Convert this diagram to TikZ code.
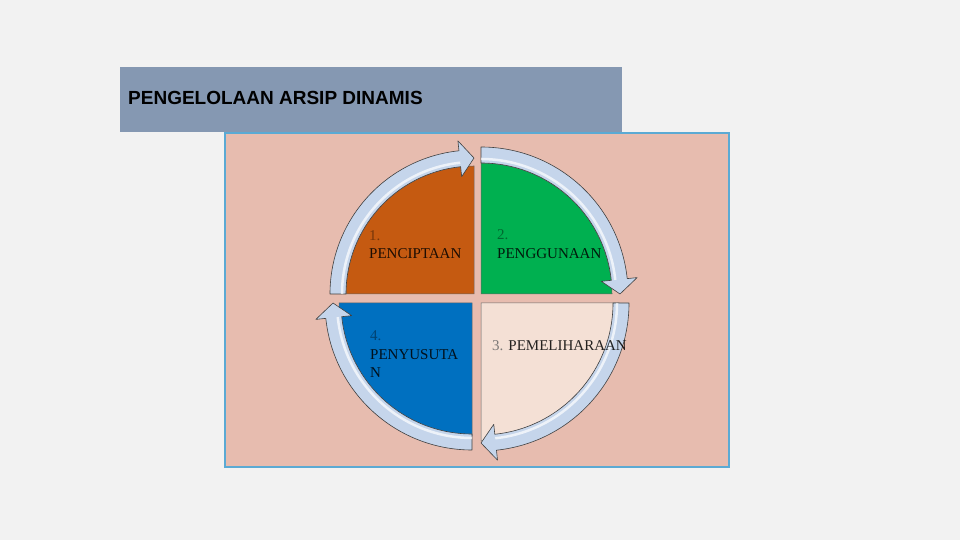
\documentclass[tikz,border=0pt]{standalone}
\usepackage{fontspec}
\setmainfont{Liberation Serif}
\setsansfont{Liberation Sans}
\usepackage{tikz}
\usetikzlibrary{calc}
\definecolor{pagegray}{HTML}{F2F2F2}
\definecolor{bandblue}{HTML}{8598B2}
\definecolor{boxpink}{HTML}{E7BCAF}
\definecolor{boxline}{HTML}{5BAAD4}
\definecolor{qorange}{HTML}{C55A11}
\definecolor{qgreen}{HTML}{00B050}
\definecolor{qblue}{HTML}{0070C0}
\definecolor{qpeach}{HTML}{F4E0D5}
\definecolor{arrfill}{HTML}{C5D5EB}
\tikzstyle{quad}=[draw=black!60, line width=0.5pt]
\tikzstyle{cyclearr}=[fill=arrfill, draw=black!75, line width=0.6pt, line join=round]
\tikzstyle{numtxt}=[inner sep=0pt, anchor=base west, font=\fontsize{15}{18}\selectfont, text=black, text opacity=.4]
\tikzstyle{wordtxt}=[inner sep=0pt, anchor=base west, font=\fontsize{15}{18}\selectfont, text=black, text opacity=.85]
\newcommand{\bentarrow}[5]{
\pgfmathsetmacro{\arrhb}{#3+6}
\pgfmathsetmacro{\arrmid}{(#4+#5)/2}
\pgfmathsetmacro{\arrhi}{#4-10}
\pgfmathsetmacro{\arrho}{#5+10}
\pgfmathsetmacro{\arrhl}{#4+4}
\filldraw[cyclearr] ($(#1)+(#2:#5)$) arc[start angle=#2, end angle=\arrhb, radius=#5]
	-- ($(#1)+(\arrhb:\arrho)$) -- ($(#1)+(#3:\arrmid)$) -- ($(#1)+(\arrhb:\arrhi)$)
	-- ($(#1)+(\arrhb:#4)$) arc[start angle=\arrhb, end angle=#2, radius=#4] -- cycle;
\draw[white, opacity=.7, line width=2.5pt] ($(#1)+(#2:\arrhl)$) arc[start angle=#2, end angle=\arrhb, radius=\arrhl];
}

\begin{document}
\begin{tikzpicture}[x=1pt,y=1pt]
\fill[pagegray] (0,0) rectangle (960,540);
\useasboundingbox (0,0) rectangle (960,540);
\fill[bandblue] (120,408) rectangle (622,473);
\node[inner sep=0pt, anchor=base west, font=\sffamily\bfseries\fontsize{19}{22}\selectfont] (title) at (128,435) {PENGELOLAAN ARSIP DINAMIS};
\filldraw[fill=boxpink, draw=boxline, line width=2pt] (225,73) rectangle (729,407);
\coordinate (c1) at (474,246);
\coordinate (c2) at (481,246);
\coordinate (c3) at (481,237);
\coordinate (c4) at (472,237);
\filldraw[quad, fill=qorange] (c1) -- ++(-128,0) arc[start angle=180, end angle=90, radius=128] -- cycle;
\filldraw[quad, fill=qgreen] (c2) -- ++(0,131) arc[start angle=90, end angle=0, radius=131] -- cycle;
\filldraw[quad, fill=qpeach] (c3) -- ++(138,0) arc[start angle=0, end angle=-90, radius=138] -- cycle;
\filldraw[quad, fill=qblue] (c4) -- ++(0,-133) arc[start angle=270, end angle=180, radius=133] -- cycle;
\bentarrow{c1}{180}{90}{128}{144}
\bentarrow{c2}{90}{0}{131}{147}
\bentarrow{c3}{0}{-90}{132}{148}
\bentarrow{c4}{270}{180}{131}{147}
\node[numtxt] (n1) at (369,299) {1.};
\node[wordtxt] (w1) at (369,281) {PENCIPTAAN};
\node[numtxt] (n2) at (497,300) {2.};
\node[wordtxt] (w2) at (497,281) {PENGGUNAAN};
\node[wordtxt] (w3) at (492,189) {\textcolor{black!60}{3.} PEMELIHARAAN};
\node[numtxt] (n4) at (370,199) {4.};
\node[wordtxt] (w4a) at (370,180) {PENYUSUTA};
\node[wordtxt] (w4b) at (370,162) {N};
\end{tikzpicture}
\end{document}
